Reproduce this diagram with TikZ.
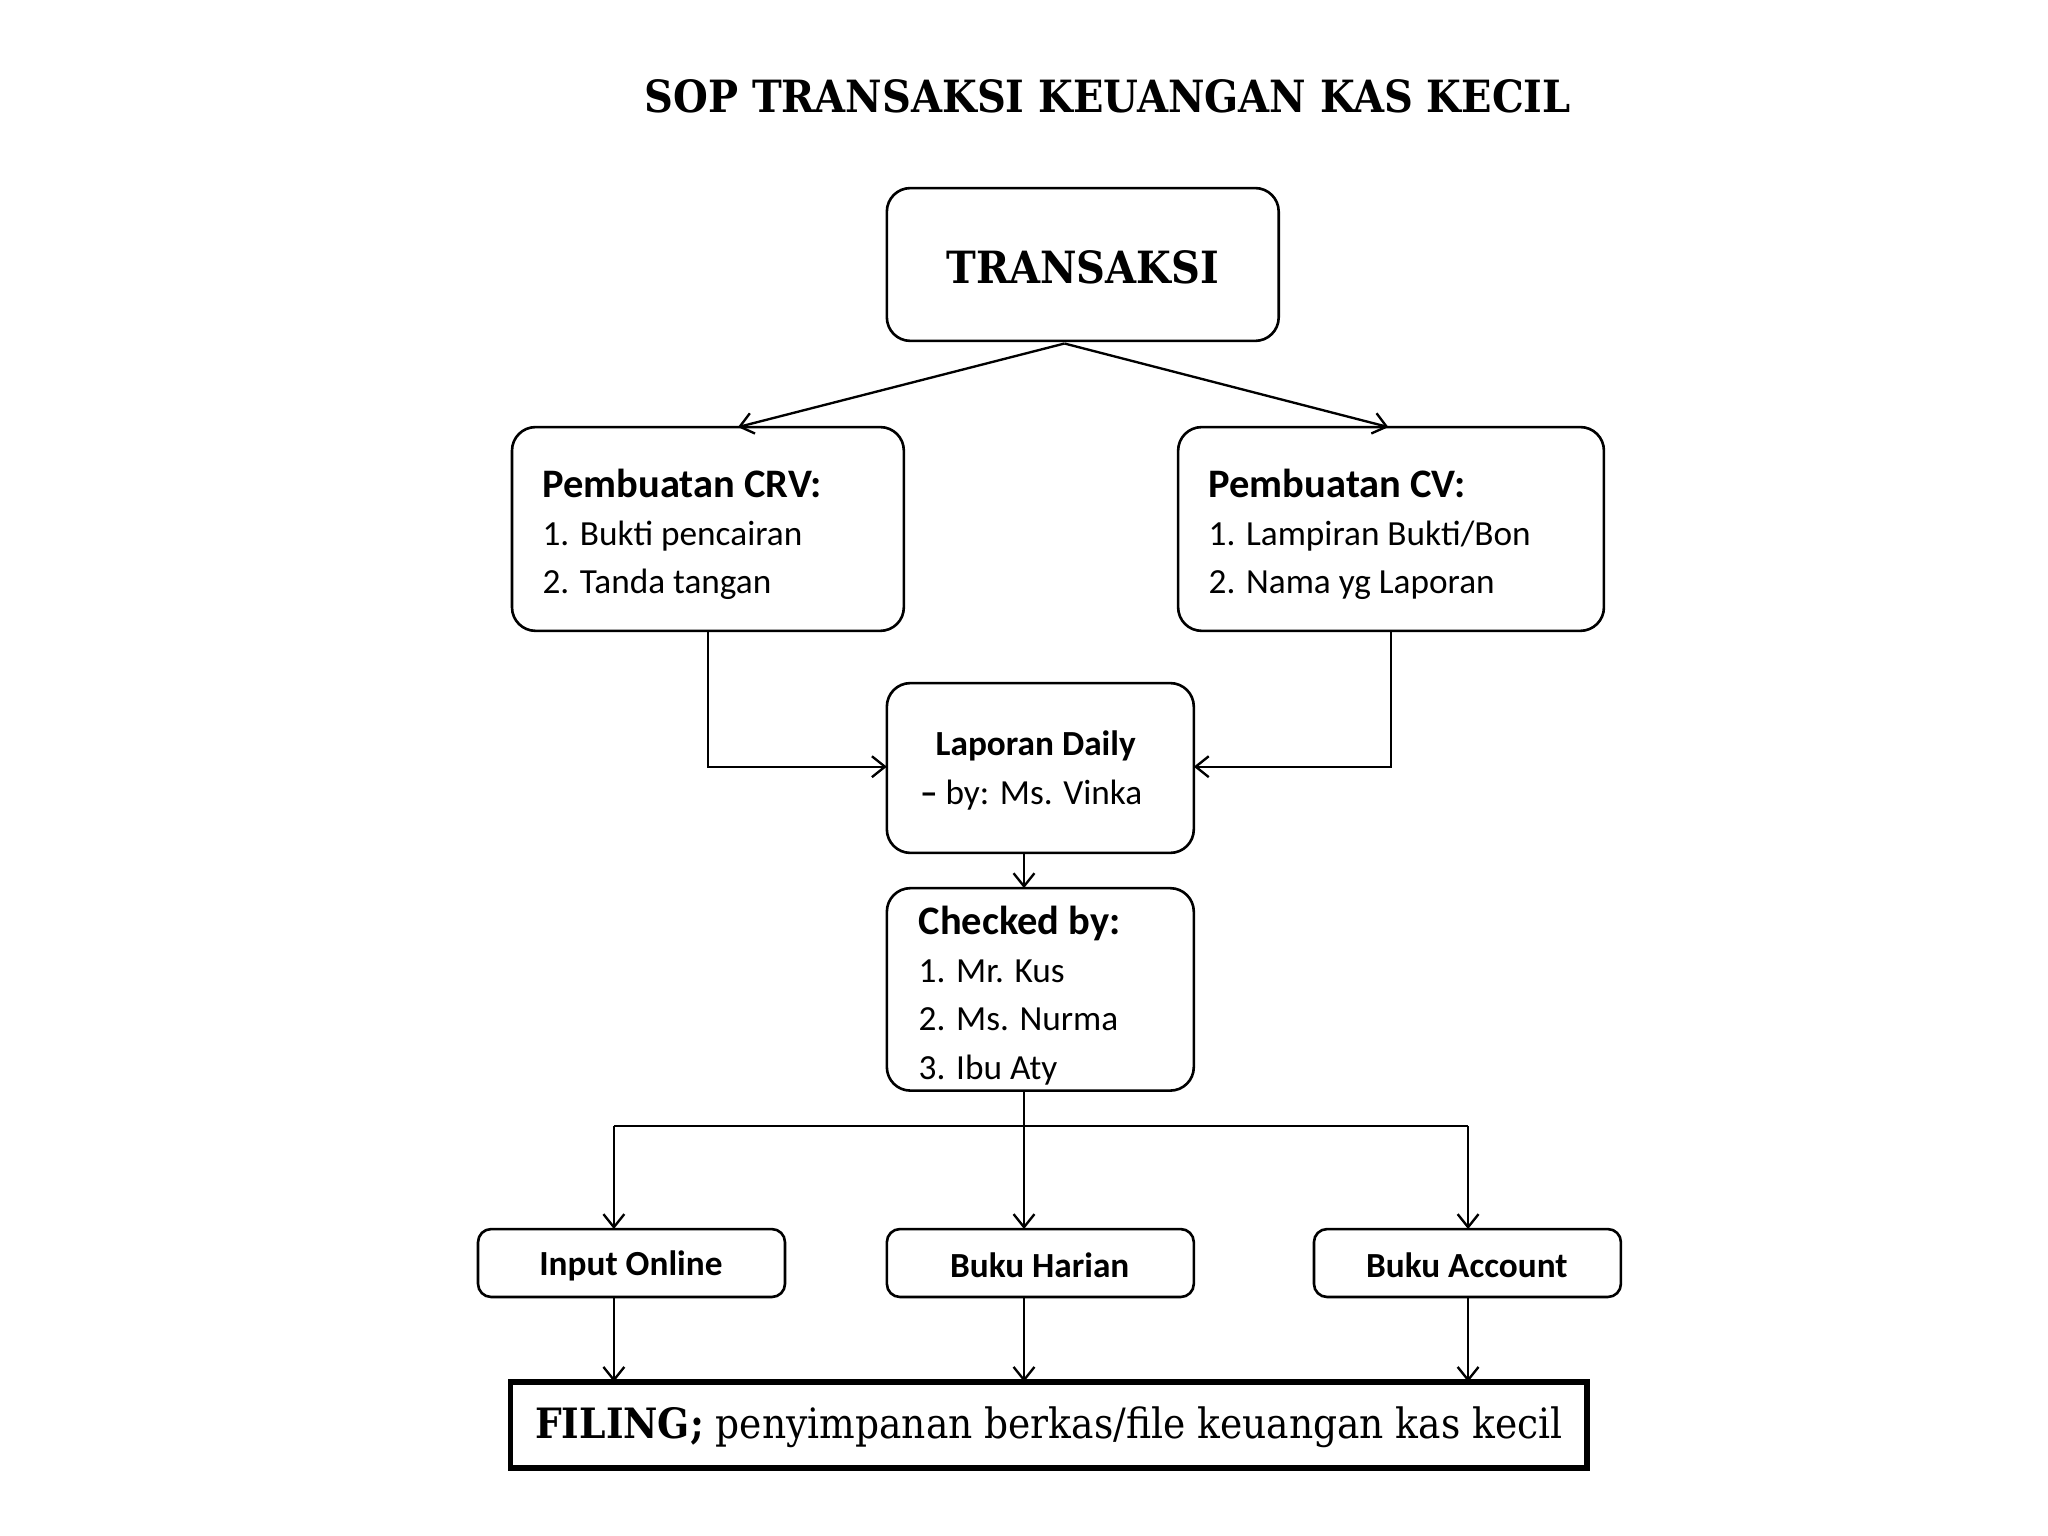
\documentclass[tikz,border=0pt]{standalone}
\usepackage{fontspec}
\setmainfont{Carlito}
\newfontfamily\serifb{DejaVu Serif Condensed}
\usetikzlibrary{arrows.meta}
\begin{document}
\begin{tikzpicture}[x=0.5pt,y=-0.5pt,
  bx/.style={draw,line width=1pt,rounded corners=9pt},
  ar/.style={draw,line width=0.9pt,-{Straight Barb[length=5pt,width=8pt]}},
  ln/.style={draw,line width=0.9pt},
  tx/.style={anchor=west,align=left,inner sep=0pt,font=\fontsize{13.5}{18.5}\selectfont}]
\useasboundingbox (0,0) rectangle (1568,1176);
\node[font=\serifb\bfseries\fontsize{17}{20}\selectfont] (title) at (848,74) {SOP TRANSAKSI KEUANGAN KAS KECIL};
\draw[bx] (679,144) rectangle (979,261);
\node[font=\serifb\bfseries\fontsize{17}{20}\selectfont] (tr) at (829,205) {TRANSAKSI};
\coordinate (trb) at (815,263);
\draw[bx] (392,327) rectangle (692,483);
\node[tx] (crv) at (415,409) {{\bfseries\fontsize{15.5}{18.5}\selectfont Pembuatan CRV:}\\1. Bukti pencairan\\2. Tanda tangan};
\draw[bx] (902,327) rectangle (1228,483);
\node[tx] (cv) at (925,409) {{\bfseries\fontsize{15.5}{18.5}\selectfont Pembuatan CV:}\\1. Lampiran Bukti/Bon\\2. Nama yg Laporan};
\draw[bx] (679,523) rectangle (914,653);
\node[tx] (lap) at (704,590) {\hspace*{6pt}{\bfseries Laporan Daily}\\\textbf{–} by: Ms. Vinka};
\draw[bx] (679,680) rectangle (914,835);
\node[tx] (chk) at (703,762) {{\bfseries\fontsize{15.5}{18.5}\selectfont Checked by:}\\1. Mr. Kus\\2. Ms. Nurma\\3. Ibu Aty};
\draw[bx,rounded corners=5pt] (366,941) rectangle (601,993);
\node[tx,anchor=center,font=\bfseries\fontsize{13.5}{16}\selectfont] (io) at (483,969) {Input Online};
\draw[bx,rounded corners=5pt] (679,941) rectangle (914,993);
\node[tx,anchor=center,font=\bfseries\fontsize{13.5}{16}\selectfont] (bh) at (796,969) {Buku Harian};
\draw[bx,rounded corners=5pt] (1006,941) rectangle (1241,993);
\node[tx,anchor=center,font=\bfseries\fontsize{13.5}{16}\selectfont] (ba) at (1123,969) {Buku Account};
\draw[line width=2pt] (391,1058) rectangle (1215,1124);
\node[font=\serifb\fontsize{16}{20}\selectfont] (fil) at (803,1093) {\textbf{FILING;} penyimpanan berkas/file keuangan kas kecil};
% arrows
\draw[ar] (trb) -- (565,327);
\draw[ar] (trb) -- (1063,327);
\draw[ar] (542,483) |- (679,587);
\draw[ar] (1065,483) |- (914,587);
\draw[ar] (784,653) -- (784,680);
\draw[ln] (784,835) -- (784,862);
\draw[ln] (470,862) -- (1124,862);
\draw[ar] (470,862) -- (470,941);
\draw[ar] (784,862) -- (784,941);
\draw[ar] (1124,862) -- (1124,941);
\draw[ar] (470,993) -- (470,1058);
\draw[ar] (784,993) -- (784,1058);
\draw[ar] (1124,993) -- (1124,1058);
\end{tikzpicture}
\end{document}
